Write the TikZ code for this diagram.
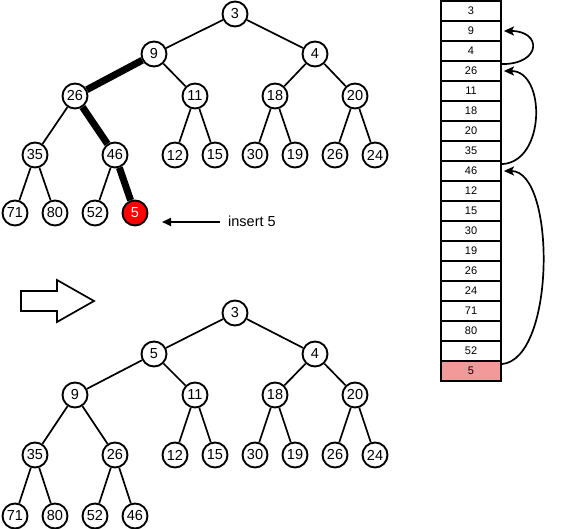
\documentclass[tikz,border=0pt]{standalone}
\usepackage{fontspec}
\setmainfont{Liberation Sans}
\usetikzlibrary{arrows.meta}
\tikzset{
  hn/.style={circle, draw, line width=1.9pt, minimum size=25pt, inner sep=0pt, fill=white,
    font=\fontsize{14.5}{16}\selectfont},
  hot/.style={hn, fill=red, text=white},
  ed/.style={line width=1.7pt},
  thk/.style={line width=7pt},
  cell/.style={rectangle, draw, line width=1.8pt, minimum width=60pt, minimum height=20pt,
    inner sep=0pt, font=\fontsize{11}{13}\selectfont},
  arr/.style={line width=1.7pt, -{Triangle[length=9pt,width=8pt]}},
  carr/.style={line width=1.7pt, -{Stealth[length=10pt,width=9pt,inset=2pt]}},
}
\definecolor{pinkcell}{RGB}{242,153,153}
\begin{document}
\begin{tikzpicture}[x=1pt,y=-1pt]
\useasboundingbox (0,0) rectangle (565,529);
% ---------- top tree ----------
\node[hn] (t3) at (235,14) {3};
\node[hn] (t9) at (154,54) {9};
\node[hn] (t4) at (315,54) {4};
\node[hn] (t26) at (75,96) {26};
\node[hn] (t11) at (195,96) {11};
\node[hn] (t18) at (275,96) {18};
\node[hn] (t20) at (355,96) {20};
\node[hn] (t35) at (35,155) {35};
\node[hn] (t46) at (115,155) {46};
\node[hn] (t12) at (175,155) {12};
\node[hn] (t15) at (215,155) {15};
\node[hn] (t30) at (255,155) {30};
\node[hn] (t19) at (295,155) {19};
\node[hn] (t26b) at (335,155) {26};
\node[hn] (t24) at (375,155) {24};
\node[hn] (t71) at (15,213) {71};
\node[hn] (t80) at (55,213) {80};
\node[hn] (t52) at (95,213) {52};
\node[hot] (t5) at (135,213) {5};
\draw[ed] (t3) -- (t9);
\draw[ed] (t3) -- (t4);
\draw[thk] (t9) -- (t26);
\draw[ed] (t9) -- (t11);
\draw[ed] (t4) -- (t18);
\draw[ed] (t4) -- (t20);
\draw[ed] (t26) -- (t35);
\draw[thk] (t26) -- (t46);
\draw[ed] (t11) -- (t12);
\draw[ed] (t11) -- (t15);
\draw[ed] (t18) -- (t30);
\draw[ed] (t18) -- (t19);
\draw[ed] (t20) -- (t26b);
\draw[ed] (t20) -- (t24);
\draw[ed] (t35) -- (t71);
\draw[ed] (t35) -- (t80);
\draw[ed] (t46) -- (t52);
\draw[thk] (t46) -- (t5);
% insert arrow
\node[anchor=west, inner sep=0pt, font=\fontsize{14.5}{16}\selectfont] (ins) at (228,221) {insert 5};
\coordinate (insTip) at (162,222);
\draw[arr] ([xshift=-8pt]ins.west |- insTip) -- (insTip);
% ---------- block arrow ----------
\draw[line width=1.7pt, line join=miter] (21,291) -- (57,291) -- (57,280) -- (94,301) -- (57,322) -- (57,311) -- (21,311) -- cycle;
% ---------- bottom tree ----------
\node[hn] (b3) at (235,313) {3};
\node[hn] (b5) at (154,354) {5};
\node[hn] (b4) at (315,354) {4};
\node[hn] (b9) at (75,395) {9};
\node[hn] (b11) at (195,395) {11};
\node[hn] (b18) at (275,395) {18};
\node[hn] (b20) at (355,395) {20};
\node[hn] (b35) at (35,455) {35};
\node[hn] (b26) at (115,455) {26};
\node[hn] (b12) at (175,455) {12};
\node[hn] (b15) at (215,455) {15};
\node[hn] (b30) at (255,455) {30};
\node[hn] (b19) at (295,455) {19};
\node[hn] (b26b) at (335,455) {26};
\node[hn] (b24) at (375,455) {24};
\node[hn] (b71) at (15,516) {71};
\node[hn] (b80) at (55,516) {80};
\node[hn] (b52) at (95,516) {52};
\node[hn] (b46) at (135,516) {46};
\draw[ed] (b3) -- (b5);
\draw[ed] (b3) -- (b4);
\draw[ed] (b5) -- (b9);
\draw[ed] (b5) -- (b11);
\draw[ed] (b4) -- (b18);
\draw[ed] (b4) -- (b20);
\draw[ed] (b9) -- (b35);
\draw[ed] (b9) -- (b26);
\draw[ed] (b11) -- (b12);
\draw[ed] (b11) -- (b15);
\draw[ed] (b18) -- (b30);
\draw[ed] (b18) -- (b19);
\draw[ed] (b20) -- (b26b);
\draw[ed] (b20) -- (b24);
\draw[ed] (b35) -- (b71);
\draw[ed] (b35) -- (b80);
\draw[ed] (b26) -- (b52);
\draw[ed] (b26) -- (b46);
% ---------- array ----------
\foreach \v [count=\i from 0] in {3,9,4,26,11,18,20,35,46,12,15,30,19,26,24,71,80,52} {
  \node[cell] (c\i) at (471,11+20*\i) {\v};
}
\node[cell, fill=pinkcell] (c18) at (471,371) {5};
\draw[carr] ([yshift=-4pt]c3.north east) .. controls +(40,0) and +(38,0) .. ([xshift=2pt]c1.east);
\draw[carr] ([yshift=-4pt]c8.north east) .. controls +(44,-2) and +(42,0) .. ([xshift=2pt]c3.east);
\draw[carr] ([yshift=-4pt]c18.north east) .. controls +(54,-5) and +(52,0) .. ([xshift=2pt]c8.east);
\end{tikzpicture}
\end{document}
